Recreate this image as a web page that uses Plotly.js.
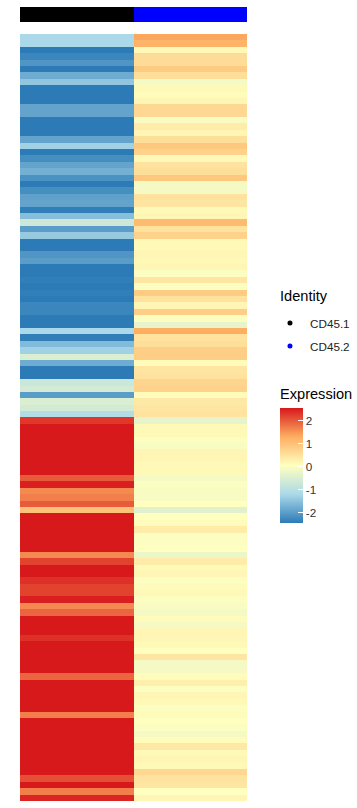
<!DOCTYPE html>
<html>
<head>
<meta charset="utf-8">
<script src="https://cdn.plot.ly/plotly-3.0.1.min.js"></script>
<style>html,body{margin:0;padding:0;background:#fff;}#chart{width:357px;height:808px;}</style>
</head>
<body>
<div id="chart"></div>
<script>
// Identity groups (columns)
const identities = ["CD45.1", "CD45.2"];
const identityColors = ["#000000", "#0000FF"];

// Scaled expression per gene (rows, top to bottom) for each identity
const cd451 = [
  -1.2, -1.2, -2.45, -2.3, -2.1, -2.45, -1.8, -1.45, -2.45, -2.45,
  -2.45, -1.9, -1.9, -2.45, -2.45, -2.45, -1.9, -1.3, -2.45, -2.2,
  -1.9, -1.75, -2.15, -2.45, -2.2, -1.95, -1.9, -2.4, -1.55, -0.7,
  -2.0, -1.4, -2.45, -2.45, -2.1, -2.0, -2.45, -2.45, -2.4, -2.45,
  -2.4, -2.45, -2.3, -2.3, -2.45, -2.45, -1.2, -2.4, -1.6, -1.3,
  -0.5, -1.8, -2.45, -2.45, -0.75, -0.6, -2.0, -0.5, -0.6, -1.1,
  2.3, 2.55, 2.55, 2.55, 2.55, 2.55, 2.55, 2.55, 2.55, 2.0,
  2.5, 1.6, 1.7, 2.0, 1.0, 2.55, 2.55, 2.55, 2.55, 2.55,
  2.55, 1.6, 2.2, 2.55, 2.55, 2.35, 2.2, 2.2, 2.5, 1.6,
  1.9, 2.55, 2.55, 2.55, 2.35, 2.55, 2.55, 2.55, 2.55, 2.55,
  1.9, 2.55, 2.55, 2.55, 2.55, 2.55, 1.7, 2.55, 2.55, 2.55,
  2.55, 2.55, 2.55, 2.55, 2.55, 2.55, 2.1, 2.55, 1.7, 2.45
];
const cd452 = [
  1.35, 1.2, 0.15, 0.6, 0.6, 0.85, 0.55, -0.1, 0.15, 0.1,
  0.2, 0.65, 0.65, -0.05, 0.35, 0.2, 0.55, 0.9, 0.75, 0.15,
  0.5, 0.55, 0.9, -0.1, -0.1, 0.5, 0.45, 0.15, 0.2, 1.1,
  0.5, 0.75, 0.15, 0.15, 0.2, 0.15, 0.2, 0.0, 0.45, 0.0,
  0.85, 0.5, 0.2, 0.8, 0.0, -0.3, 1.3, 0.5, 0.55, 0.8,
  0.8, 0.1, 0.45, 0.5, 0.7, 0.75, 0.1, 0.4, 0.45, 0.5,
  -0.3, 0.15, 0.15, 0.0, -0.05, 0.2, 0.2, 0.15, 0.15, -0.1,
  0.0, -0.05, -0.05, 0.05, -0.4, 0.05, 0.1, 0.35, 0.0, 0.0,
  0.05, -0.25, 0.35, 0.15, 0.2, 0.0, 0.1, 0.15, 0.0, -0.05,
  -0.1, 0.1, -0.1, 0.2, 0.2, 0.15, 0.05, 0.45, -0.1, -0.1,
  0.1, 0.3, 0.0, 0.2, 0.15, 0.0, 0.1, 0.05, 0.0, -0.1,
  0.1, 0.4, 0.15, 0.2, 0.15, 0.65, 0.5, 0.45, 0.05, 0.2
];
const rowIdx = cd451.map((_, i) => i);
const tickVals = [-2, -1, 0, 1, 2];
const tickText = ["-2", "-1", "0", "1", "2"];

const z = rowIdx.map(i => [cd451[i], cd452[i]]);
const scale = [[0, "#2C7BB6"], [0.25, "#ABD9E9"], [0.5, "#FFFFBF"], [0.75, "#FDAE61"], [1, "#D7191C"]];
const FONT = "Liberation Sans, Arial, sans-serif";

const traces = [
  {
    type: "heatmap", x: identities, y: rowIdx, z: z,
    xaxis: "x", yaxis: "y",
    colorscale: scale, zmin: -2.45, zmax: 2.55,
    hoverinfo: "skip",
    colorbar: {
      x: 1.145, xanchor: "left", xpad: 0,
      y: 0.4950, yanchor: "top", ypad: 0,
      len: 115, lenmode: "pixels", thickness: 23,
      outlinewidth: 0,
      tickmode: "array", tickvals: tickVals, ticktext: tickText,
      ticks: "inside", ticklen: 5, tickcolor: "#fff", tickwidth: 1,
      tickfont: {family: FONT, size: 11.7, color: "#333"}
    },
    showlegend: false
  },
  {
    type: "heatmap", x: identities, y: ["Identity"], z: [[0, 1]],
    xaxis: "x", yaxis: "y2",
    colorscale: [[0, identityColors[0]], [1, identityColors[1]]],
    showscale: false, hoverinfo: "skip", showlegend: false
  }
];
identities.forEach((name, k) => {
  traces.push({
    type: "scatter", mode: "markers", x: [null], y: [null],
    xaxis: "x", yaxis: "y",
    name: name, legendgroup: "g" + k,
    marker: {color: identityColors[k], size: 5},
    showlegend: true, hoverinfo: "skip"
  });
});

const layout = {
  width: 357, height: 808,
  margin: {l: 20, r: 110, t: 7, b: 7, autoexpand: false},
  paper_bgcolor: "#fff", plot_bgcolor: "#fff",
  font: {family: FONT, color: "#000"},
  xaxis: {domain: [0, 1], range: [-0.5, 1.5], showticklabels: false, showgrid: false, zeroline: false, ticks: "", showline: false},
  yaxis: {domain: [0, 0.966], range: [119.5, -0.5], showticklabels: false, showgrid: false, zeroline: false, ticks: "", showline: false},
  yaxis2: {domain: [0.9811, 1], showticklabels: false, showgrid: false, zeroline: false, ticks: ""},
  showlegend: true,
  legend: {
    x: 1.1013, xanchor: "left", y: 0.6203, yanchor: "top",
    font: {family: FONT, size: 11.7, color: "#222"},
    bgcolor: "rgba(0,0,0,0)", borderwidth: 0, tracegroupgap: 4,
    itemsizing: "trace"
  },
  annotations: [
    {text: "Identity", xref: "paper", yref: "paper", x: 1.1366, y: 0.6354, xanchor: "left", yanchor: "middle", showarrow: false,
     font: {family: FONT, size: 14.6, color: "#000"}},
    {text: "Expression", xref: "paper", yref: "paper", x: 1.1366, y: 0.5126, xanchor: "left", yanchor: "middle", showarrow: false,
     font: {family: FONT, size: 14.6, color: "#000"}}
  ]
};

Plotly.newPlot("chart", traces, layout, {displayModeBar: false, staticPlot: true});
</script>
</body>
</html>
